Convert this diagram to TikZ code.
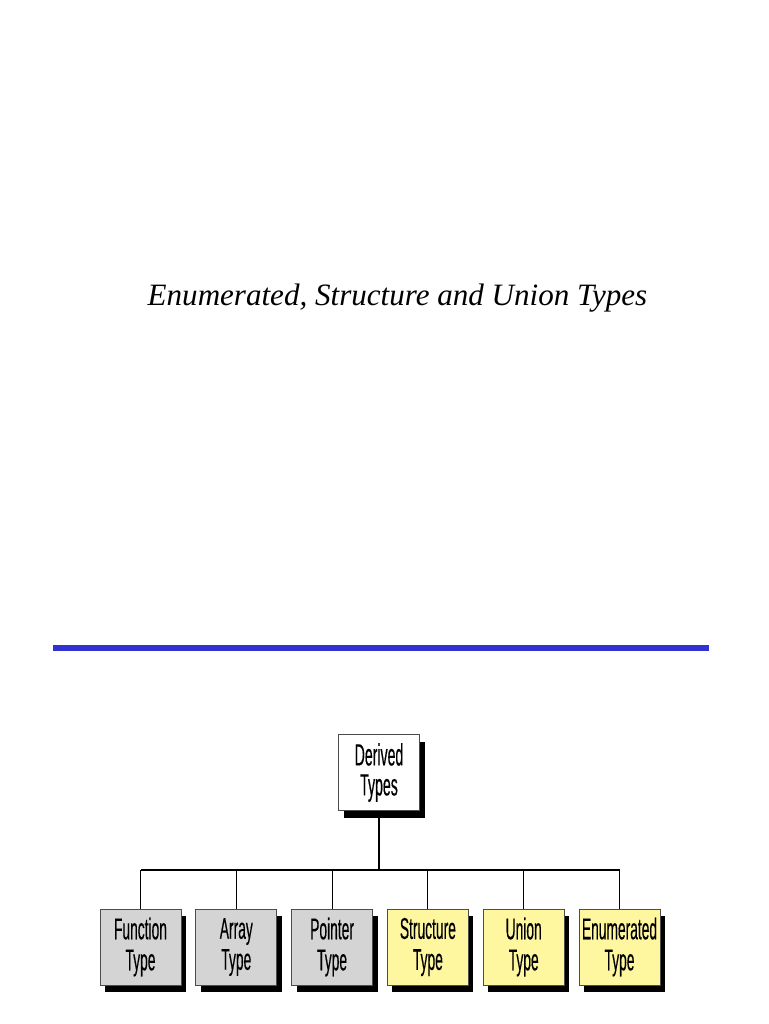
\documentclass[tikz,border=0pt]{standalone}
\usepackage{fontspec}
\setmainfont{Liberation Serif}
\newfontfamily\boxfont[FakeStretch=0.46,FakeBold=0.3]{Liberation Sans}
\usetikzlibrary{positioning,shadows}
\definecolor{rulebl}{RGB}{50,50,210}
\definecolor{boxgrey}{RGB}{212,212,212}
\definecolor{boxyel}{RGB}{255,246,160}

\begin{document}
\begin{tikzpicture}[x=0.75pt,y=-0.75pt, node distance=10.5pt,
box/.style={draw=black!70, line width=0.6pt, minimum width=60.75pt, minimum height=57pt,
align=center, inner sep=1pt, font=\boxfont\fontsize{22.5}{23.25}\selectfont,
drop shadow={shadow xshift=3.75pt, shadow yshift=-5.5pt, fill=black, opacity=1}},
grey/.style={box, fill=boxgrey}, yel/.style={box, fill=boxyel}]
\useasboundingbox (0,0) rectangle (768,1024);
\node[anchor=base, font=\itshape\fontsize{23.3}{27}\selectfont] (title) at (397.5,305)
{Enumerated, Structure and Union Types};
\draw[rulebl, line width=4.5pt] (53,648) -- (709,648);
\node[box, fill=white, font=\boxfont\fontsize{23}{22.5}\selectfont] (derived) at (379,772.5) {Derived\\Types};
\node[grey] (func) at (140.5,947) {Function\\Type};
\node[grey, right=of func] (array) {Array\\Type};
\node[grey, right=of array] (ptr) {Pointer\\Type};
\node[yel, right=of ptr] (struct) {Structure\\Type};
\node[yel, right=of struct] (union) {Union\\Type};
\node[yel, right=of union] (enum) {Enumerated\\Type};
\coordinate (bus) at (380,870);
\draw[line width=0.8pt] (derived.south) -- (derived.south |- bus)
(func.north |- bus) -- (enum.north |- bus);
\foreach \n in {func,array,ptr,struct,union,enum}
\draw[line width=0.8pt] (\n.north |- bus) -- (\n.north);
\end{tikzpicture}
\end{document}
